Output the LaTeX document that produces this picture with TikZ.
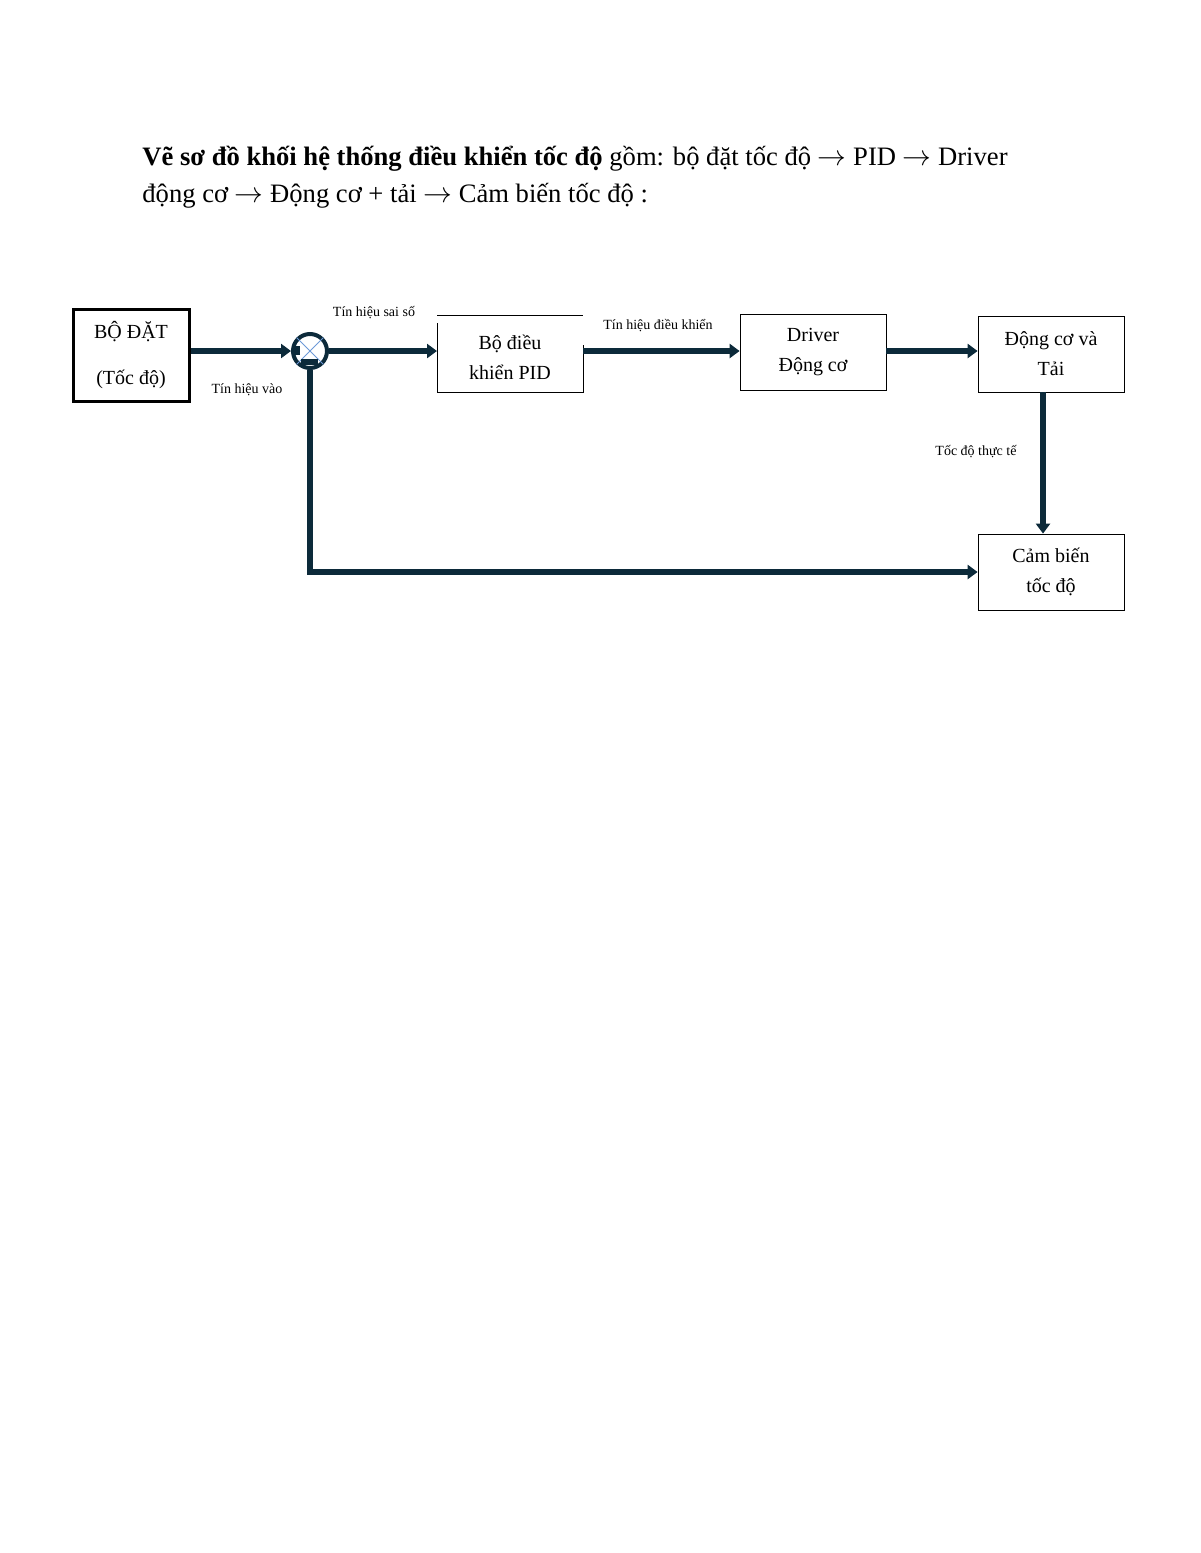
\documentclass[tikz,border=0pt]{standalone}
\usepackage{fontspec}
\setmainfont{Liberation Serif}
\usetikzlibrary{arrows.meta}
\definecolor{dk}{HTML}{0C2A3A}
\begin{document}
\begin{tikzpicture}[x=0.5pt,y=-0.5pt,
 blk/.style={draw,thin,minimum width=73pt,minimum height=38pt,align=center,font=\fontsize{10}{15}\selectfont},
 lbl/.style={font=\fontsize{7}{8}\selectfont},
 flow/.style={draw=dk,line width=3pt,-{Triangle[length=5pt,width=7pt]}}]
\useasboundingbox (0,0) rectangle (1200,1553);
\node[anchor=base west,inner sep=0pt,font=\fontsize{13.3}{14}\selectfont] (t1) at (142,165) {\textbf{Vẽ sơ đồ khối hệ thống điều khiển tốc độ} gồm: bộ đặt tốc độ $\rightarrow$ PID $\rightarrow$ Driver};
\node[anchor=base west,inner sep=0pt,font=\fontsize{13.3}{14}\selectfont] (t2) at (142,202) {động cơ $\rightarrow$ Động cơ + tải $\rightarrow$ Cảm biến tốc độ :};
\node[draw,line width=1.5pt,minimum width=58pt,minimum height=46pt,align=center,font=\fontsize{10}{23}\selectfont] (set) at (131,355) {BỘ ĐẶT\\(Tốc độ)};
\node[circle,draw=dk,line width=2pt,minimum size=17pt,inner sep=0pt] (sum) at (310,351) {};
\draw[cyan!50!blue!60,thin] (sum.45)--(sum.225) (sum.135)--(sum.-45);
\fill[dk] (301,359) rectangle (318,365);
\fill[dk] (293,346) rectangle (300,355);
\node[blk,draw=none] (pid) at (510,357) {Bộ điều\\khiển PID};
\draw[thin] (437,323)--(437,392)--(583,392)--(583,345);
\draw[thin] (437,315)--(583,315);
\node[blk] (drv) at (813,352) {Driver\\Động cơ};
\node[blk] (mot) at (1051,354) {Động cơ và\\Tải};
\node[blk] (sen) at (1051,572) {Cảm biến\\tốc độ};
\draw[flow] (set.east|-sum) -- (sum.west);
\draw[flow] (sum.east) -- (437,351);
\draw[flow] (583,351) -- (drv.west|-sum);
\draw[flow] (drv.east|-sum) -- (mot.west|-sum);
\draw[flow] (mot.south-|1043,0) -- (sen.north-|1043,0);
\draw[flow] (sum.south) |- (sen.west);
\node[lbl] (l1) at (374,313) {Tín hiệu sai số};
\node[lbl] (l2) at (247,390) {Tín hiệu vào};
\node[lbl] (l3) at (658,326) {Tín hiệu điều khiển};
\node[lbl] (l4) at (976,452) {Tốc độ thực tế};
\end{tikzpicture}
\end{document}
